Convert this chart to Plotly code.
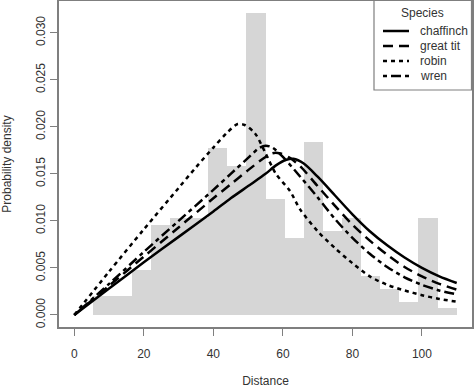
import plotly.graph_objects as go

# Histogram of distances (density scale)
bin_edges = [5.5, 11, 16.5, 22, 27.5, 33, 38.5, 44, 49.5, 55, 60.5, 66, 71.5,
             77, 82.5, 88, 93.5, 99, 104.5, 110]
bin_density = [0.0020, 0.0020, 0.0048, 0.0096, 0.0103, 0.0103, 0.0178, 0.0158,
               0.0321, 0.0123, 0.0082, 0.0184, 0.0089, 0.0103, 0.0041, 0.0028,
               0.0014, 0.0103, 0.0007]

# Fitted probability density curves per species
chaffinch_x = [0, 10, 20, 30, 40, 45, 50, 55, 58, 61, 63, 66, 70, 75, 80, 85, 90, 95, 100, 105, 110]
chaffinch_y = [0, 0.0028, 0.0056, 0.0083, 0.0110, 0.0124, 0.0137, 0.0150, 0.0159, 0.0165, 0.0166,
               0.0161, 0.0147, 0.0127, 0.0107, 0.0089, 0.0074, 0.0061, 0.0050, 0.0041, 0.0034]

greattit_x = [0, 10, 20, 30, 40, 45, 50, 55, 57, 59, 62, 65, 70, 75, 80, 85, 90, 95, 100, 105, 110]
greattit_y = [0, 0.0031, 0.0062, 0.0093, 0.0124, 0.0139, 0.0154, 0.0168, 0.0172, 0.0172, 0.0167,
              0.0158, 0.0137, 0.0116, 0.0096, 0.0079, 0.0064, 0.0051, 0.0041, 0.0033, 0.0027]

robin_x = [0, 10, 20, 30, 35, 40, 44, 47, 49, 52, 55, 58, 62, 65, 70, 75, 80, 85, 90, 95, 100, 105, 110]
robin_y = [0, 0.0046, 0.0091, 0.0135, 0.0157, 0.0178, 0.0194, 0.0203, 0.0202, 0.0193, 0.0172,
           0.0150, 0.0132, 0.0112, 0.0089, 0.0071, 0.0055, 0.0041, 0.0032, 0.0026, 0.0021, 0.0017, 0.0014]

wren_x = [0, 10, 20, 30, 40, 45, 50, 53, 55, 57, 60, 65, 70, 75, 80, 85, 90, 95, 100, 105, 110]
wren_y = [0, 0.0033, 0.0067, 0.0100, 0.0133, 0.0150, 0.0167, 0.0177, 0.0180, 0.0178, 0.0168,
          0.0147, 0.0125, 0.0102, 0.0082, 0.0065, 0.0051, 0.0040, 0.0032, 0.0026, 0.0022]

species = ["chaffinch", "great tit", "robin", "wren"]
x_ticks = [0, 20, 40, 60, 80, 100]
y_ticks = [0.000, 0.005, 0.010, 0.015, 0.020, 0.025, 0.030]

FONT = "Liberation Sans, Arial, Helvetica, sans-serif"
TXT = "#333333"
AX = "#7f7f7f"
W, H = 474, 388
ML, MR, MT, MB = 59, 2, 1, 61
PW, PH = W - ML - MR, H - MT - MB


def px_x(px):
    return (px - ML) / PW


def px_y(py):
    return (H - MB - py) / PH


fig = go.Figure()

centers = [(a + b) / 2 for a, b in zip(bin_edges[:-1], bin_edges[1:])]
widths = [b - a for a, b in zip(bin_edges[:-1], bin_edges[1:])]
fig.add_trace(go.Bar(x=centers, y=bin_density, width=widths,
                     marker=dict(color="#d6d6d6", line=dict(width=0)),
                     showlegend=False, hoverinfo="skip"))

dashes = ["solid", "10px,6px", "4px,4px", "4px,4px,10px,4px"]
data = [(chaffinch_x, chaffinch_y), (greattit_x, greattit_y),
        (robin_x, robin_y), (wren_x, wren_y)]
for name, (xs, ys), dash in zip(species, data, dashes):
    fig.add_trace(go.Scatter(x=xs, y=ys, mode="lines", name=name, showlegend=False,
                             line=dict(color="black", width=2.5, dash=dash,
                                       shape="spline", smoothing=0.8)))

# Legend box drawn like the reference (R style)
shapes = [dict(type="rect", xref="paper", yref="paper",
               x0=px_x(374), x1=px_x(471.5), y0=px_y(90), y1=px_y(0.5),
               line=dict(color=AX, width=1.2), fillcolor="white", layer="above")]
annotations = [dict(text="Species", xref="paper", yref="paper",
                    x=px_x(422), y=px_y(12.5), xanchor="center", yanchor="middle",
                    showarrow=False, font=dict(size=12, color=TXT))]
legend_rows = [31, 46, 61, 76]
for name, dash, row in zip(species, dashes, legend_rows):
    shapes.append(dict(type="line", xref="paper", yref="paper",
                       x0=px_x(383), x1=px_x(409), y0=px_y(row), y1=px_y(row),
                       line=dict(color="black", width=2.5, dash=dash), layer="above"))
    annotations.append(dict(text=name, xref="paper", yref="paper",
                            x=px_x(418), y=px_y(row), xanchor="left", yanchor="middle",
                            showarrow=False, font=dict(size=12, color=TXT)))

fig.update_layout(
    width=W, height=H,
    margin=dict(l=ML, r=MR, t=MT, b=MB),
    paper_bgcolor="white", plot_bgcolor="white",
    font=dict(family=FONT, size=12, color=TXT),
    bargap=0, showlegend=False,
    shapes=shapes, annotations=annotations,
)
fig.update_xaxes(
    range=[-4.4, 114.4], tickvals=x_ticks, ticktext=[str(v) for v in x_ticks],
    showgrid=False, zeroline=False, automargin=False,
    showline=True, mirror=True, linecolor=AX, linewidth=1.5,
    ticks="outside", ticklen=7, tickcolor=AX, tickwidth=1,
    ticklabelstandoff=8,
    title=dict(text="Distance", standoff=16, font=dict(size=12, color=TXT)),
)
fig.update_yaxes(
    range=[-0.001284, 0.033384], tickvals=y_ticks,
    ticktext=["%.3f" % v for v in y_ticks], tickangle=-90,
    showgrid=False, zeroline=False, automargin=False,
    showline=True, mirror=True, linecolor=AX, linewidth=1.5,
    ticks="outside", ticklen=7, tickcolor=AX, tickwidth=1,
    ticklabelstandoff=0,
    title=dict(text="Probability density", standoff=21, font=dict(size=12, color=TXT)),
)

fig.write_html("out.html", config={"displayModeBar": False},
               post_script="document.body.style.margin='0px';document.body.style.overflow='hidden';")
